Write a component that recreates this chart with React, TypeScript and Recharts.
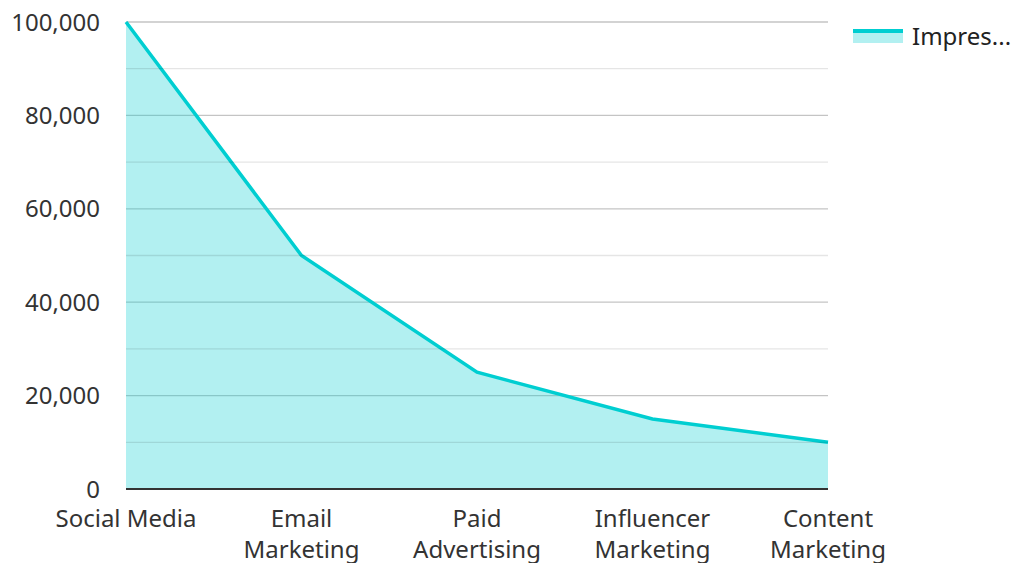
import React from 'react';
import { AreaChart, Area, XAxis, YAxis, CartesianGrid, Legend, ReferenceLine } from 'recharts';

const CHANNELS = ['Social Media', 'Email Marketing', 'Paid Advertising', 'Influencer Marketing', 'Content Marketing'];
const IMPRESSIONS = [100000, 50000, 25000, 15000, 10000];
const MAJOR_TICKS = [0, 20000, 40000, 60000, 80000, 100000];
const MINOR_TICKS = [10000, 30000, 50000, 70000, 90000];

const data = CHANNELS.map((name, i) => ({ name, impressions: IMPRESSIONS[i] }));

const TEAL = '#00CED1';

// long labels go on two lines, short ones stay on one
const CategoryTick = (props: any) => {
    const { x, y, payload } = props;
    const label: string = payload.value;
    const lines = label.length > 12 ? label.split(' ') : [label];
    return (
        <text x={x} y={y + 30} textAnchor="middle" fill="#333333" fontSize={24}>
            {lines.map((line, i) => (
                <tspan key={i} x={x} dy={i === 0 ? 0 : 31}>
                    {line}
                </tspan>
            ))}
        </text>
    );
};

const LegendContent = () => (
    <div style={{ display: 'flex', alignItems: 'center', whiteSpace: 'nowrap' }}>
        <svg width={50} height={14} style={{ display: 'block' }}>
            <rect x={0} y={2} width={50} height={12} fill={TEAL} fillOpacity={0.3} />
            <line x1={0} y1={2} x2={50} y2={2} stroke={TEAL} strokeWidth={4} />
        </svg>
        <span style={{ marginLeft: 9, fontSize: 24, color: '#222222', lineHeight: '28px' }}>Impres...</span>
    </div>
);

const App: React.FC = () => {
    return (
        <div style={{ position: 'absolute', left: 0, top: 0, fontFamily: '"Noto Sans", sans-serif', background: '#fff' }}>
            <AreaChart width={1017} height={563} data={data} margin={{ top: 22, right: 189, bottom: 0, left: 0 }}>
                <CartesianGrid vertical={false} stroke="rgba(0,0,0,0.23)" strokeWidth={1.3} />
                {MINOR_TICKS.map((v) => (
                    <ReferenceLine key={v} y={v} stroke="rgba(0,0,0,0.1)" strokeWidth={1.3} />
                ))}
                <XAxis
                    dataKey="name"
                    interval={0}
                    height={74}
                    tickLine={false}
                    axisLine={{ stroke: '#333333', strokeWidth: 2 }}
                    tick={<CategoryTick />}
                />
                <YAxis
                    width={126}
                    domain={[0, 100000]}
                    ticks={MAJOR_TICKS}
                    interval={0}
                    axisLine={false}
                    tickLine={false}
                    tickMargin={20}
                    tick={{ fill: '#333333', fontSize: 24 }}
                    tickFormatter={(v: number) => v.toLocaleString('en-US')}
                />
                <Area
                    type="linear"
                    dataKey="impressions"
                    name="Impressions"
                    stroke={TEAL}
                    strokeWidth={3.5}
                    fill={TEAL}
                    fillOpacity={0.3}
                    dot={false}
                    activeDot={false}
                    isAnimationActive={false}
                />
                <Legend
                    layout="vertical"
                    align="center"
                    verticalAlign="middle"
                    content={<LegendContent />}
                    wrapperStyle={{ left: 853, top: 22, width: 'auto' }}
                />
            </AreaChart>
        </div>
    );
};

export default App;
